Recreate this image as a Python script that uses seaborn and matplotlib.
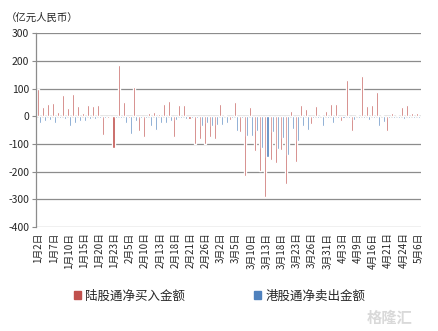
import pandas as pd
import matplotlib.pyplot as plt
import seaborn as sns

# === Data (亿元人民币)
tick_labels = ["1月2日", "1月7日", "1月10日", "1月15日", "1月20日", "1月23日",
               "2月5日", "2月10日", "2月13日", "2月18日", "2月21日", "2月26日",
               "3月2日", "3月5日", "3月10日", "3月13日", "3月18日", "3月23日",
               "3月26日", "3月31日", "4月3日", "4月9日", "4月16日", "4月21日",
               "4月24日", "5月6日"]

north_net_buy = [100, 35, 43, 47, 14, 77, 29, 80, 37, 11, 39, 37, 42, -68, -8, -115,
                 185, 51, -5, 104, -53, -76, 11, 14, 7, 43, 55, -75, 40, 40, -10, -100,
                 -82, -100, -75, -82, 43, 5, -15, 53, -57, -214, 32, -126, -197, -292,
                 -159, -170, -123, -245, 18, -165, 40, 25, -27, 36, 3, 18, 43, 43,
                 -17, 130, -53, 5, 145, 36, 40, 87, 4, -53, 13, 6, 32, 40, 12, 11]

south_net_sell = [-25, -17, -13, -25, -7, -10, -35, -25, -19, -17, -10, -10, -5, -5, -3, -5,
                  -5, -23, -65, -19, -8, -5, -35, -50, -23, -23, -19, -13, -5, -10, -5, -8,
                  -35, -25, -35, -31, -31, -23, -5, -53, -8, -70, -71, -55, -114, -147,
                  -58, -120, -80, -140, -46, -88, -36, -51, -8, -5, -36, -8, -24, -8,
                  -5, -5, -14, -5, -5, -14, -8, -36, -20, -8, -5, -8, -10, -8, -5, -8]

series_names = ["陆股通净买入金额", "港股通净卖出金额"]
colors = ["#C0504D", "#4F81BD"]

n = len(north_net_buy)
df = pd.DataFrame({
    "idx": list(range(n)) * 2,
    "value": north_net_buy + south_net_sell,
    "series": [series_names[0]] * n + [series_names[1]] * n,
})

sns.set_style("white")
plt.rcParams['font.family'] = ['Noto Sans CJK SC', 'DejaVu Sans']
plt.rcParams['axes.unicode_minus'] = False

fig = plt.figure(figsize=(4.39, 3.31), dpi=100)
ax = fig.add_axes([0.082, 0.314, 0.877, 0.586])

sns.barplot(data=df, x="idx", y="value", hue="series", hue_order=series_names,
            palette=colors, saturation=1, width=0.8, dodge=True, ax=ax, legend=False)

ax.set_ylim(-400, 300)
ax.set_yticks(range(-400, 301, 100))
ax.set_xlim(-0.5, n - 0.5)
ax.yaxis.grid(True, color="#8c8c8c", linewidth=0.9)
ax.set_axisbelow(True)
ax.axhline(0, color="#8c8c8c", linewidth=0.9, zorder=0.5)

for s in ["top", "right", "bottom"]:
    ax.spines[s].set_visible(False)
ax.spines["left"].set_color("#8c8c8c")
ax.spines["left"].set_linewidth(0.9)

ax.set_xticks(range(0, n, 3))
ax.set_xticklabels(tick_labels, rotation=90, fontsize=7)
ax.tick_params(axis="x", length=0, pad=4)
ax.tick_params(axis="y", length=3, color="#8c8c8c", labelsize=7.5, pad=2, left=True)
ax.set_xlabel("")
ax.set_ylabel("")

fig.text(0.012, 0.945, "（亿元人民币）", fontsize=7.5, va="center")

handles = [plt.Rectangle((0, 0), 1, 1, color=c) for c in colors]
fig.legend(handles, series_names, loc="center", bbox_to_anchor=(0.5, 0.105), ncol=2,
           frameon=False, fontsize=9, handlelength=0.6, handleheight=0.6,
           handletextpad=0.3, columnspacing=5.5)

fig.text(0.94, 0.04, "格隆汇", fontsize=11, color="#d9d9d9", ha="right", va="center",
         fontweight="bold")

plt.savefig("out.png", dpi=100)
plt.close()
